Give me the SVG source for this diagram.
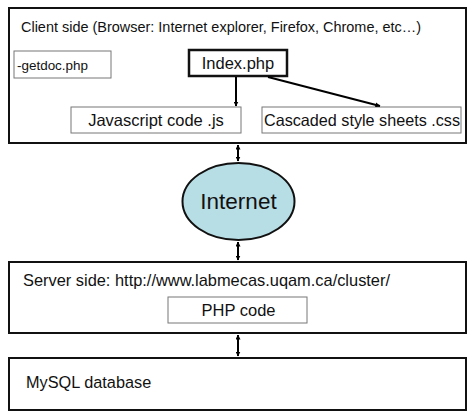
<svg xmlns="http://www.w3.org/2000/svg" width="474" height="417" viewBox="0 0 474 417">
<defs>
<marker id="ah" viewBox="0 0 10 10" refX="9" refY="5" markerWidth="5" markerHeight="5" orient="auto-start-reverse" markerUnits="userSpaceOnUse">
<path d="M0,0 L10,5 L0,10 z" fill="#000"/>
</marker>
<style>
text{font-family:"Liberation Sans",Arial,sans-serif;fill:#111}
.big{fill:#fff;stroke:#111;stroke-width:2}
.small{fill:#fff;stroke:#777;stroke-width:1}
.con{stroke:#000;stroke-width:2;fill:none}
</style>
</defs>
<rect width="474" height="417" fill="#fff"/>
<g id="client">
<rect class="big" x="9" y="8" width="457" height="135"/>
<text x="21" y="32" font-size="15" textLength="400" lengthAdjust="spacingAndGlyphs">Client side (Browser: Internet explorer, Firefox, Chrome, etc…)</text>
</g>
<g id="getdoc">
<rect class="small" x="14" y="51" width="97" height="27"/>
<text x="17" y="70" font-size="13" textLength="71" lengthAdjust="spacingAndGlyphs">-getdoc.php</text>
</g>
<g id="index">
<rect x="189" y="50" width="98" height="26" fill="#fff" stroke="#111" stroke-width="2.5"/>
<text x="238" y="68.5" font-size="16.5" text-anchor="middle">Index.php</text>
</g>
<g id="js">
<rect class="small" x="71" y="107" width="170" height="26"/>
<text x="156" y="125.5" font-size="16.5" text-anchor="middle">Javascript code .js</text>
</g>
<g id="css">
<rect class="small" x="262" y="107" width="199" height="26"/>
<text x="264" y="125.5" font-size="16.5" textLength="196" lengthAdjust="spacingAndGlyphs">Cascaded style sheets .css</text>
</g>
<g id="internet">
<ellipse cx="238.5" cy="201.5" rx="56" ry="38.5" fill="#b7dde5" stroke="#111" stroke-width="2"/>
<text x="238.5" y="209" font-size="22.5" text-anchor="middle">Internet</text>
</g>
<g id="server">
<rect class="big" x="9" y="262" width="457" height="71"/>
<text x="23" y="286" font-size="16.4" textLength="367" lengthAdjust="spacingAndGlyphs">Server side: http://www.labmecas.uqam.ca/cluster/</text>
</g>
<g id="php">
<rect class="small" x="168" y="297" width="139" height="26"/>
<text x="238.5" y="315.5" font-size="16.5" text-anchor="middle">PHP code</text>
</g>
<g id="mysql">
<rect class="big" x="9" y="358" width="457" height="52"/>
<text x="26" y="388" font-size="16.3">MySQL database</text>
</g>
<g id="connectors">
<line class="con" x1="236" y1="77" x2="236" y2="106" marker-end="url(#ah)"/>
<line class="con" x1="268" y1="77" x2="380" y2="106" marker-end="url(#ah)"/>
<line class="con" x1="238" y1="145" x2="238" y2="161" marker-start="url(#ah)" marker-end="url(#ah)"/>
<line class="con" x1="238" y1="242" x2="238" y2="260" marker-start="url(#ah)" marker-end="url(#ah)"/>
<line class="con" x1="238" y1="335" x2="238" y2="356" marker-start="url(#ah)" marker-end="url(#ah)"/>
</g>
</svg>
